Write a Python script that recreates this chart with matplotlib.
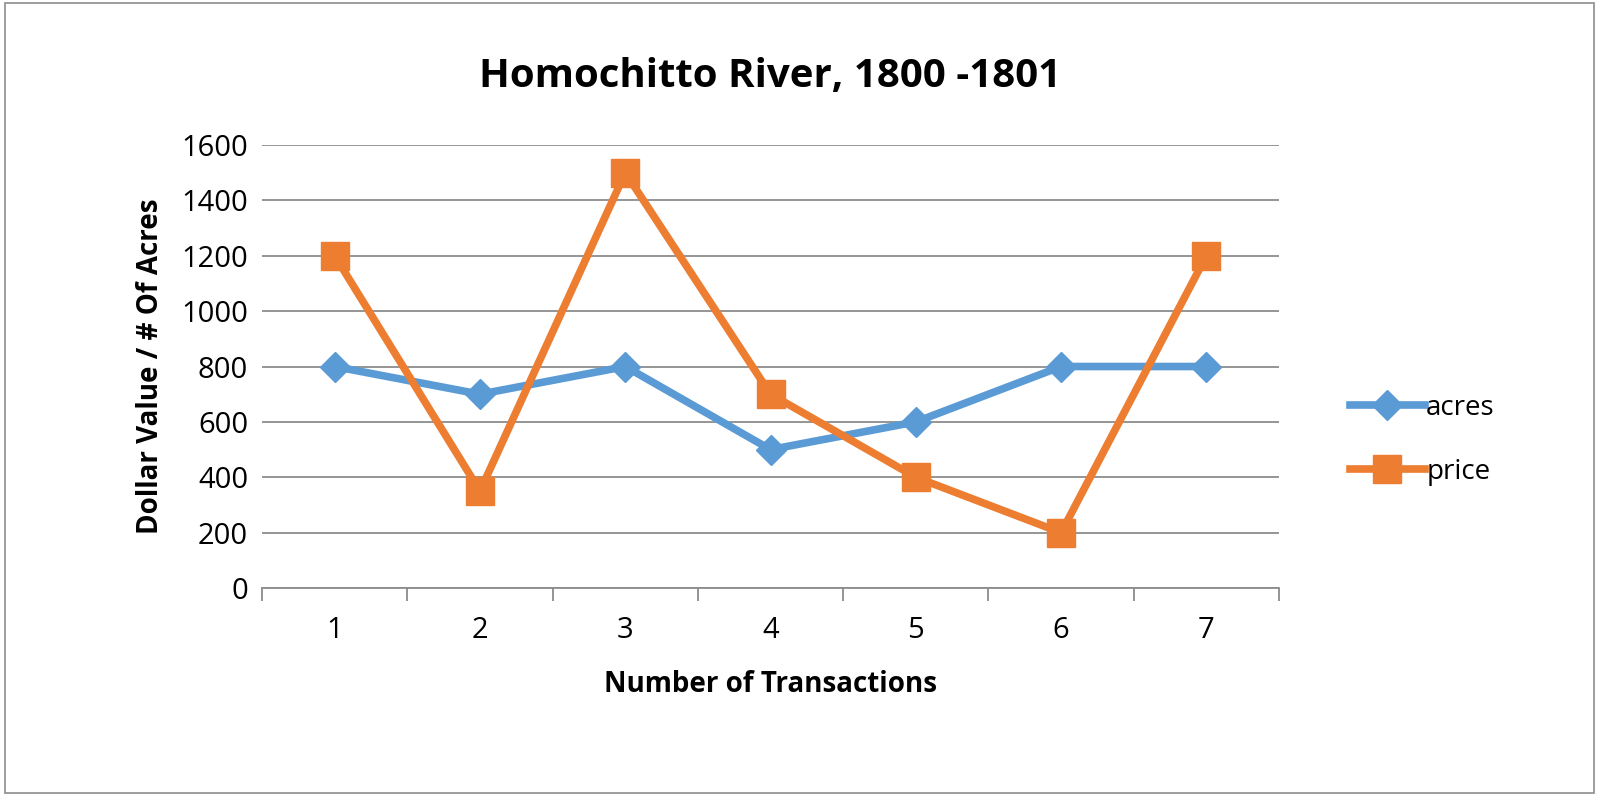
import matplotlib
matplotlib.use("Agg")
import matplotlib.pyplot as plt
from matplotlib.patches import Rectangle

categories = [1, 2, 3, 4, 5, 6, 7]
acres = [800, 700, 800, 500, 600, 800, 800]
price = [1200, 350, 1500, 700, 400, 200, 1200]

plt.rcParams['font.family'] = ['Open Sans', 'DejaVu Sans']
fig = plt.figure(figsize=(15.99, 7.96), dpi=100)
fig.patches.append(Rectangle((0.003, 0.004), 0.994, 0.992, transform=fig.transFigure,
                             fill=False, edgecolor='#8c8c8c', lw=1.2))
ax = fig.add_axes([0.1639, 0.2613, 0.636, 0.5565])
ax.plot(categories, acres, color='#5B9BD5', lw=5.5, marker='D', ms=15, label='acres')
ax.plot(categories, price, color='#ED7D31', lw=5.5, marker='s', ms=20, label='price')
ax.set_xlim(0.5, 7.5)
ax.set_ylim(0, 1600)
ax.set_yticks(range(0, 1601, 200))
ax.set_xticks(categories)
ax.set_xticks([x + 0.5 for x in range(0, 8)], minor=True)
ax.tick_params(axis='x', which='major', length=0, labelsize=21, pad=20)
ax.tick_params(axis='x', which='minor', length=9, color='#8c8c8c', width=1.3)
ax.tick_params(axis='y', length=0, labelsize=21, pad=10)
ax.grid(axis='y', color='#8c8c8c', lw=1.3)
ax.set_axisbelow(True)
for s in ['top', 'right', 'left']:
    ax.spines[s].set_visible(False)
ax.spines['bottom'].set_color('#8c8c8c')
ax.spines['bottom'].set_linewidth(1.3)
ax.set_title('Homochitto River, 1800 -1801', fontsize=29, fontweight='bold', pad=42)
ax.set_xlabel('Number of Transactions', fontsize=20, fontweight='bold', labelpad=18)
ax.set_ylabel('Dollar Value / # Of Acres', fontsize=20, fontweight='bold', labelpad=12)
ax.legend(loc='center left', bbox_to_anchor=(1.045, 0.335), frameon=False, fontsize=20,
          handlelength=2.7, handletextpad=0.05, labelspacing=1.3)
fig.savefig('out.png', dpi=100)
